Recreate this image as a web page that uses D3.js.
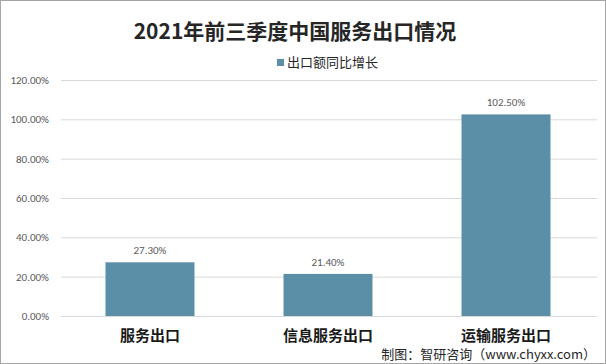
<!DOCTYPE html>
<html><head><meta charset="utf-8">
<script src="https://cdn.jsdelivr.net/npm/d3@7"></script>
<style>body{margin:0;background:#fff}svg{display:block;font-family:"Microsoft YaHei","Noto Sans CJK SC",sans-serif}</style>
</head><body><svg id="c" width="606" height="364"></svg>
<script>
const categories = ["服务出口","信息服务出口","运输服务出口"];
const values = [27.3, 21.4, 102.5];
const yTicks = [0,20,40,60,80,100,120];
const seriesName = "出口额同比增长";
const title = "2021年前三季度中国服务出口情况";
const source = "制图：智研咨询（www.chyxx.com）";

const svg = d3.select("#c");
const W=606,H=364;
svg.append("rect").attr("x",0.5).attr("y",0.5).attr("width",W-1).attr("height",H-1).attr("fill","#fff").attr("stroke","#a6a6a6");
const m={l:61,r:595,t:80,b:316};
const x=d3.scaleBand().domain(categories).range([m.l,m.r]).paddingInner(0.5).paddingOuter(0.25);
const y=d3.scaleLinear().domain([0,120]).range([m.b,m.t]);
const color="#5b8fa8";

svg.append("text").attr("x",295).attr("y",39).attr("text-anchor","middle").attr("font-size",21).attr("font-weight","bold").attr("fill","#262626").text(title);

const lg=svg.append("g");
lg.append("rect").attr("x",277).attr("y",59).attr("width",7).attr("height",7).attr("fill",color);
lg.append("text").attr("x",287).attr("y",67).attr("font-size",13).attr("fill","#262626").text(seriesName);

const ya=svg.append("g").attr("transform",`translate(${m.l},0)`).call(d3.axisLeft(y).tickValues(yTicks).tickSize(-(m.r-m.l+2)).tickFormat(d=>d.toFixed(2)+"%"));
ya.select(".domain").remove();
ya.selectAll("line").attr("stroke","#d9d9d9");
ya.selectAll("text").attr("x",-12).attr("font-size",11).attr("fill","#595959").attr("font-family","Calibri,'Liberation Sans','DejaVu Sans',sans-serif");

svg.selectAll(".bar").data(values).enter().append("rect").attr("class","bar")
 .attr("x",(d,i)=>x(categories[i])).attr("width",x.bandwidth())
 .attr("y",d=>y(d)).attr("height",d=>y(0)-y(d)).attr("fill",color);

svg.selectAll(".vl").data(values).enter().append("text")
 .attr("x",(d,i)=>x(categories[i])+x.bandwidth()/2).attr("y",d=>y(d)-8)
 .attr("text-anchor","middle").attr("font-size",11).attr("fill","#595959")
 .attr("font-family","Calibri,'Liberation Sans','DejaVu Sans',sans-serif")
 .text(d=>d.toFixed(2)+"%");

const xa=svg.append("g").attr("transform",`translate(0,${m.b})`).call(d3.axisBottom(x).tickSize(0));
xa.select(".domain").attr("stroke","#d9d9d9");
xa.selectAll("text").attr("dy",0).attr("y",25).attr("font-size",15).attr("font-weight","bold").attr("fill","#1a1a1a").attr("font-family","'Noto Sans CJK SC',sans-serif");

svg.append("text").attr("x",596).attr("y",359).attr("text-anchor","end").attr("font-size",13).attr("fill","#262626").text(source);
</script></body></html>
